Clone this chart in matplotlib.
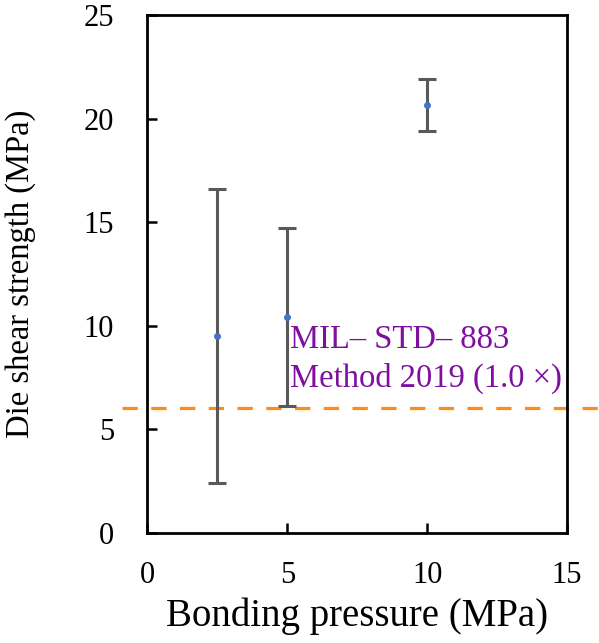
import numpy as np
import matplotlib
matplotlib.use('Agg')
import matplotlib.pyplot as plt

plt.rcParams['font.family'] = ['Liberation Serif', 'DejaVu Serif']

# data
pressure = [2.5, 5.0, 10.0]
strength = [9.5, 10.4, 20.65]
strength_err = [7.1, 4.3, 1.25]
mil_std_limit = 6.0
x_ticks = [0, 5, 10, 15]
y_ticks = [0, 5, 10, 15, 20, 25]

fig = plt.figure(figsize=(5.99, 6.43), dpi=100)
ax = fig.add_axes([0.2462, 0.1715, 0.7004, 0.8052])

ax.errorbar(pressure, strength, yerr=strength_err, fmt='o', color='#4472C4',
            markersize=4, ecolor='#595959', elinewidth=2.2, capsize=6.5,
            capthick=2.2, zorder=3)

# dashed reference line runs past the frame
ax.plot([-0.9, 16.5], [mil_std_limit, mil_std_limit], color='#FF8C1A', lw=2.3,
        dashes=(4.8, 4.2), clip_on=False, zorder=2)

ax.text(5.09, 8.92, 'MIL\u2013 STD\u2013 883', color='#7F0F9F', fontsize=23.5,
        va='baseline', ha='left')
ax.text(5.09, 7.03, 'Method 2019 (1.0 \u00d7)', color='#7F0F9F', fontsize=23.5,
        va='baseline', ha='left')

ax.set_xlim(0, 15)
ax.set_ylim(0, 25)
ax.set_xticks(x_ticks)
ax.set_yticks(y_ticks)
ax.tick_params(direction='in', length=7, width=1.8, labelsize=22)
ax.tick_params(axis='x', pad=20)
ax.tick_params(axis='y', pad=24)
for s in ax.spines.values():
    s.set_linewidth(2)

ax.set_xlabel('Bonding pressure (MPa)', fontsize=28, labelpad=6)
ax.set_ylabel('Die shear strength (MPa)', fontsize=23.5, labelpad=34)

fig.savefig('out.png', dpi=100)
